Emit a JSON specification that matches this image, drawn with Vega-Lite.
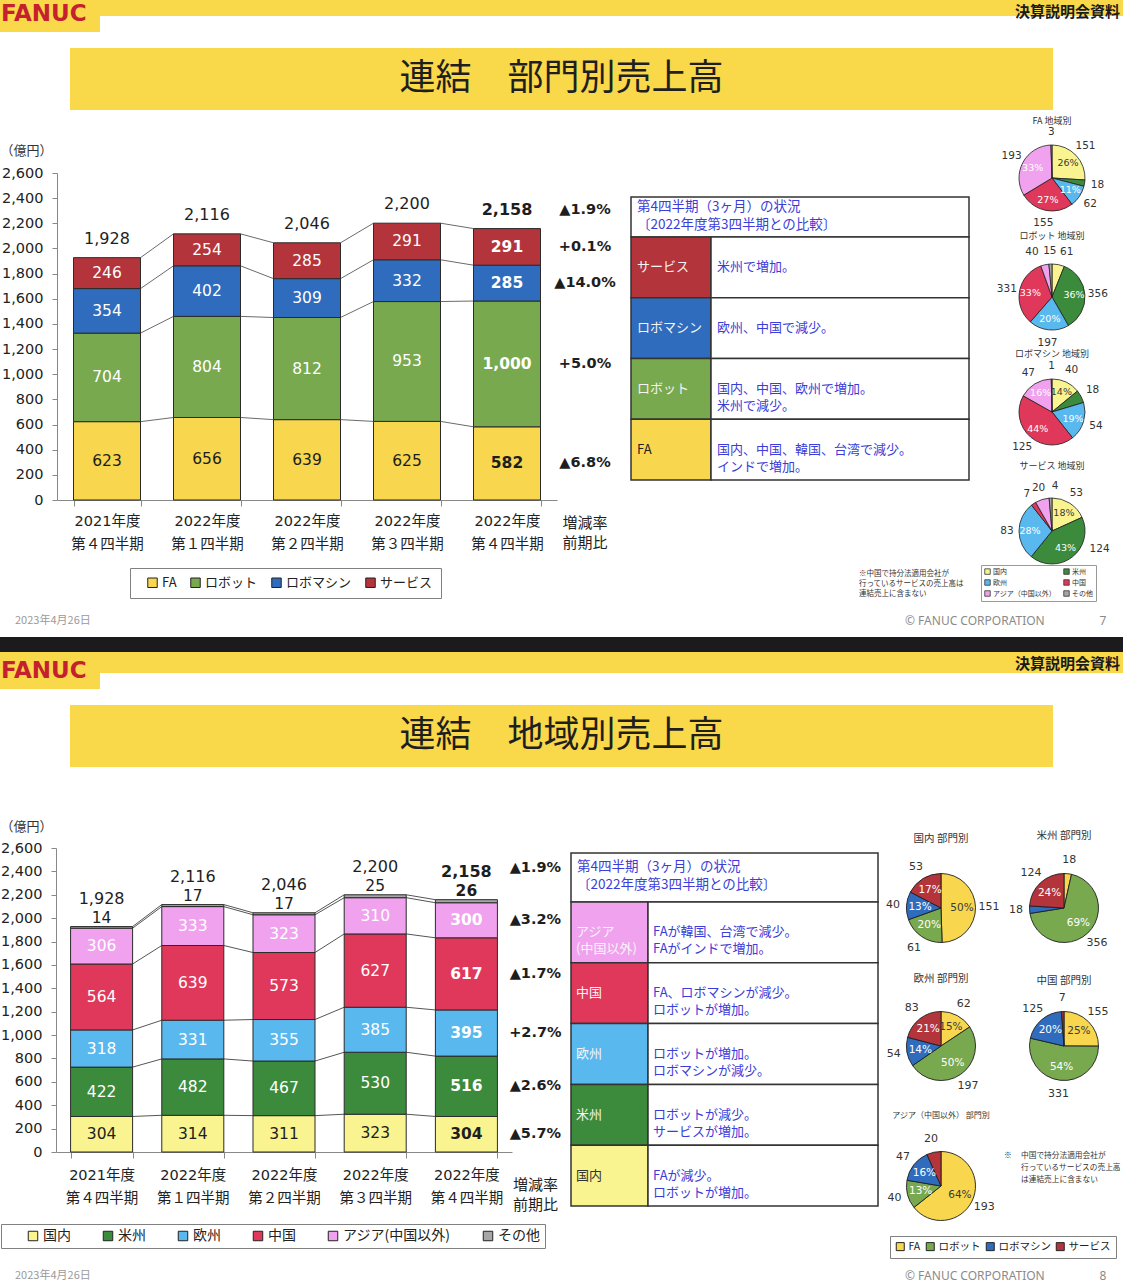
{
"$schema": "https://vega.github.io/schema/vega-lite/v6.json",
"padding": 0,
"background": "white",
"spacing": 0,
"resolve": {"scale": {"color": "independent"}, "legend": {"color": "independent"}},
"config": {
  "view": {"stroke": null},
  "font": "DejaVu Sans, Noto Sans CJK JP",
  "axis": {"grid": false},
  "title": {"font": "Noto Sans CJK JP"}
},
"datasets": {
  "segTop": [
    {"q":"2021年度第４四半期","s":"FA","k":0,"v":623},
    {"q":"2021年度第４四半期","s":"ロボット","k":1,"v":704},
    {"q":"2021年度第４四半期","s":"ロボマシン","k":2,"v":354},
    {"q":"2021年度第４四半期","s":"サービス","k":3,"v":246},
    {"q":"2022年度第１四半期","s":"FA","k":0,"v":656},
    {"q":"2022年度第１四半期","s":"ロボット","k":1,"v":804},
    {"q":"2022年度第１四半期","s":"ロボマシン","k":2,"v":402},
    {"q":"2022年度第１四半期","s":"サービス","k":3,"v":254},
    {"q":"2022年度第２四半期","s":"FA","k":0,"v":639},
    {"q":"2022年度第２四半期","s":"ロボット","k":1,"v":812},
    {"q":"2022年度第２四半期","s":"ロボマシン","k":2,"v":309},
    {"q":"2022年度第２四半期","s":"サービス","k":3,"v":285},
    {"q":"2022年度第３四半期","s":"FA","k":0,"v":625},
    {"q":"2022年度第３四半期","s":"ロボット","k":1,"v":953},
    {"q":"2022年度第３四半期","s":"ロボマシン","k":2,"v":332},
    {"q":"2022年度第３四半期","s":"サービス","k":3,"v":291},
    {"q":"2022年度第４四半期","s":"FA","k":0,"v":582,"g":"▲6.8%"},
    {"q":"2022年度第４四半期","s":"ロボット","k":1,"v":1000,"g":"+5.0%"},
    {"q":"2022年度第４四半期","s":"ロボマシン","k":2,"v":285,"g":"▲14.0%"},
    {"q":"2022年度第４四半期","s":"サービス","k":3,"v":291,"g":"+0.1%"}
  ],
  "totTop": [
    {"q":"2021年度第４四半期","t":1928},
    {"q":"2022年度第１四半期","t":2116},
    {"q":"2022年度第２四半期","t":2046},
    {"q":"2022年度第３四半期","t":2200},
    {"q":"2022年度第４四半期","t":2158,"g":"▲1.9%"}
  ],
  "segBot": [
    {"q":"2021年度第４四半期","s":"国内","k":0,"v":304},
    {"q":"2021年度第４四半期","s":"米州","k":1,"v":422},
    {"q":"2021年度第４四半期","s":"欧州","k":2,"v":318},
    {"q":"2021年度第４四半期","s":"中国","k":3,"v":564},
    {"q":"2021年度第４四半期","s":"アジア(中国以外)","k":4,"v":306},
    {"q":"2021年度第４四半期","s":"その他","k":5,"v":14},
    {"q":"2022年度第１四半期","s":"国内","k":0,"v":314},
    {"q":"2022年度第１四半期","s":"米州","k":1,"v":482},
    {"q":"2022年度第１四半期","s":"欧州","k":2,"v":331},
    {"q":"2022年度第１四半期","s":"中国","k":3,"v":639},
    {"q":"2022年度第１四半期","s":"アジア(中国以外)","k":4,"v":333},
    {"q":"2022年度第１四半期","s":"その他","k":5,"v":17},
    {"q":"2022年度第２四半期","s":"国内","k":0,"v":311},
    {"q":"2022年度第２四半期","s":"米州","k":1,"v":467},
    {"q":"2022年度第２四半期","s":"欧州","k":2,"v":355},
    {"q":"2022年度第２四半期","s":"中国","k":3,"v":573},
    {"q":"2022年度第２四半期","s":"アジア(中国以外)","k":4,"v":323},
    {"q":"2022年度第２四半期","s":"その他","k":5,"v":17},
    {"q":"2022年度第３四半期","s":"国内","k":0,"v":323},
    {"q":"2022年度第３四半期","s":"米州","k":1,"v":530},
    {"q":"2022年度第３四半期","s":"欧州","k":2,"v":385},
    {"q":"2022年度第３四半期","s":"中国","k":3,"v":627},
    {"q":"2022年度第３四半期","s":"アジア(中国以外)","k":4,"v":310},
    {"q":"2022年度第３四半期","s":"その他","k":5,"v":25},
    {"q":"2022年度第４四半期","s":"国内","k":0,"v":304,"g":"▲5.7%"},
    {"q":"2022年度第４四半期","s":"米州","k":1,"v":516,"g":"▲2.6%"},
    {"q":"2022年度第４四半期","s":"欧州","k":2,"v":395,"g":"+2.7%"},
    {"q":"2022年度第４四半期","s":"中国","k":3,"v":617,"g":"▲1.7%"},
    {"q":"2022年度第４四半期","s":"アジア(中国以外)","k":4,"v":300,"g":"▲3.2%"},
    {"q":"2022年度第４四半期","s":"その他","k":5,"v":26}
  ],
  "totBot": [
    {"q":"2021年度第４四半期","t":1928},
    {"q":"2022年度第１四半期","t":2116},
    {"q":"2022年度第２四半期","t":2046},
    {"q":"2022年度第３四半期","t":2200},
    {"q":"2022年度第４四半期","t":2158,"g":"▲1.9%"}
  ],
  "pieTop": [
    {"g":"FA","r":"国内","k":0,"v":151,"p":"26%"},
    {"g":"FA","r":"米州","k":1,"v":18,"p":""},
    {"g":"FA","r":"欧州","k":2,"v":62,"p":"11%"},
    {"g":"FA","r":"中国","k":3,"v":155,"p":"27%"},
    {"g":"FA","r":"アジア（中国以外）","k":4,"v":193,"p":"33%"},
    {"g":"FA","r":"その他","k":5,"v":3,"p":""},
    {"g":"ロボット","r":"国内","k":0,"v":61,"p":""},
    {"g":"ロボット","r":"米州","k":1,"v":356,"p":"36%"},
    {"g":"ロボット","r":"欧州","k":2,"v":197,"p":"20%"},
    {"g":"ロボット","r":"中国","k":3,"v":331,"p":"33%"},
    {"g":"ロボット","r":"アジア（中国以外）","k":4,"v":40,"p":""},
    {"g":"ロボット","r":"その他","k":5,"v":15,"p":""},
    {"g":"ロボマシン","r":"国内","k":0,"v":40,"p":"14%"},
    {"g":"ロボマシン","r":"米州","k":1,"v":18,"p":""},
    {"g":"ロボマシン","r":"欧州","k":2,"v":54,"p":"19%"},
    {"g":"ロボマシン","r":"中国","k":3,"v":125,"p":"44%"},
    {"g":"ロボマシン","r":"アジア（中国以外）","k":4,"v":47,"p":"16%"},
    {"g":"ロボマシン","r":"その他","k":5,"v":1,"p":""},
    {"g":"サービス","r":"国内","k":0,"v":53,"p":"18%"},
    {"g":"サービス","r":"米州","k":1,"v":124,"p":"43%"},
    {"g":"サービス","r":"欧州","k":2,"v":83,"p":"28%"},
    {"g":"サービス","r":"中国","k":3,"v":7,"p":""},
    {"g":"サービス","r":"アジア（中国以外）","k":4,"v":20,"p":""},
    {"g":"サービス","r":"その他","k":5,"v":4,"p":""}
  ],
  "pieBot": [
    {"g":"国内","r":"FA","k":0,"v":151,"p":"50%"},
    {"g":"国内","r":"ロボット","k":1,"v":61,"p":"20%"},
    {"g":"国内","r":"ロボマシン","k":2,"v":40,"p":"13%"},
    {"g":"国内","r":"サービス","k":3,"v":53,"p":"17%"},
    {"g":"米州","r":"FA","k":0,"v":18,"p":""},
    {"g":"米州","r":"ロボット","k":1,"v":356,"p":"69%"},
    {"g":"米州","r":"ロボマシン","k":2,"v":18,"p":""},
    {"g":"米州","r":"サービス","k":3,"v":124,"p":"24%"},
    {"g":"欧州","r":"FA","k":0,"v":62,"p":"15%"},
    {"g":"欧州","r":"ロボット","k":1,"v":197,"p":"50%"},
    {"g":"欧州","r":"ロボマシン","k":2,"v":54,"p":"14%"},
    {"g":"欧州","r":"サービス","k":3,"v":83,"p":"21%"},
    {"g":"中国","r":"FA","k":0,"v":155,"p":"25%"},
    {"g":"中国","r":"ロボット","k":1,"v":331,"p":"54%"},
    {"g":"中国","r":"ロボマシン","k":2,"v":125,"p":"20%"},
    {"g":"中国","r":"サービス","k":3,"v":7,"p":""},
    {"g":"アジア","r":"FA","k":0,"v":193,"p":"64%"},
    {"g":"アジア","r":"ロボット","k":1,"v":40,"p":"13%"},
    {"g":"アジア","r":"ロボマシン","k":2,"v":47,"p":"16%"},
    {"g":"アジア","r":"サービス","k":3,"v":20,"p":""}
  ]
},
"vconcat": [
  {"width":1123,"height":48,
   "layer":[
     {"data":{"values":[{}]},"mark":{"type":"rect","color":"#f9d84a"},"encoding":{"x":{"value":0},"x2":{"value":1123},"y":{"value":0},"y2":{"value":16}}},
     {"data":{"values":[{}]},"mark":{"type":"rect","color":"#f9d84a"},"encoding":{"x":{"value":0},"x2":{"value":100},"y":{"value":16},"y2":{"value":32}}},
     {"data":{"values":[{"t":"FANUC"}]},"mark":{"type":"text","align":"left","baseline":"middle","fontSize":23,"fontWeight":"bold","color":"#c4202e","font":"DejaVu Sans"},"encoding":{"text":{"field":"t"},"x":{"value":1},"y":{"value":14}}},
     {"data":{"values":[{"t":"決算説明会資料"}]},"mark":{"type":"text","align":"right","baseline":"middle","fontSize":15,"fontWeight":"bold","color":"#1a1a1a","font":"Noto Sans CJK JP"},"encoding":{"text":{"field":"t"},"x":{"value":1120},"y":{"value":11.5}}}
   ]},
  {"width":1123,"height":62,
   "layer":[
     {"data":{"values":[{}]},"mark":{"type":"rect","color":"#f9d84a"},"encoding":{"x":{"value":70},"x2":{"value":1053},"y":{"value":0},"y2":{"value":62}}},
     {"data":{"values":[{"t":"連結　部門別売上高"}]},"mark":{"type":"text","fontSize":36,"color":"#1f1f1f","font":"Noto Sans CJK JP","baseline":"middle"},"encoding":{"text":{"field":"t"}}}
   ]},
  {"hconcat":[
    {"width":630,"height":492,
     "encoding":{"x":{"field":"q","type":"nominal","title":null,
       "scale":{"type":"band","range":[57,557],"paddingInner":0.33,"paddingOuter":0.165},
       "axis":{"title":null,"offset":-102,"labelExpr":"[slice(datum.label,0,6), slice(datum.label,6)]","labelAngle":0,"labelFontSize":14.5,"labelLineHeight":23,"labelPadding":8,"labelColor":"#222","tickBand":"extent","tickSize":6,"tickColor":"#888","domainColor":"#888"}}},
     "layer":[
      {"data":{"name":"segTop"},
       "transform":[
         {"stack":"v","groupby":["q"],"sort":[{"field":"k","order":"ascending"}],"as":["y0","y1"]},
         {"window":[{"op":"lead","field":"y1","as":"ny"},{"op":"lead","field":"q","as":"nq"}],"groupby":["s"],"sort":[{"field":"q","order":"ascending"}]},
         {"filter":"isValid(datum.nq)"}
       ],
       "mark":{"type":"rule","color":"#6b6b6b","strokeWidth":1},
       "encoding":{"x":{"field":"q","type":"nominal","bandPosition":1},"x2":{"field":"nq","bandPosition":0},
         "y":{"field":"y1","type":"quantitative","scale":{"domain":[0,2600],"nice":false,"range":[390,63]},"axis":{"values":[0,200,400,600,800,1000,1200,1400,1600,1800,2000,2200,2400,2600],"format":",","labelExpr":"format(datum.value, ',')","offset":-57,"title":"（億円）","titleAngle":0,"titleAlign":"left","titleBaseline":"middle","titleX":-57,"titleY":40,"titleFontSize":13,"titleFontWeight":"normal","titleColor":"#333","titleFont":"Noto Sans CJK JP","labelFontSize":14.5,"labelColor":"#222","labelPadding":9,"tickSize":5,"tickColor":"#888","domainColor":"#888"}},
         "y2":{"field":"ny"}}},
      {"data":{"name":"segTop"},
       "mark":{"type":"bar","stroke":"#2b2b2b","strokeWidth":1},
       "encoding":{
         "y":{"field":"v","type":"quantitative","stack":"zero","scale":{"domain":[0,2600],"nice":false,"range":[390,63]},
           "axis":{"values":[0,200,400,600,800,1000,1200,1400,1600,1800,2000,2200,2400,2600],"format":",","labelExpr":"format(datum.value, ',')","offset":-57,"title":"（億円）","titleAngle":0,"titleAlign":"left","titleBaseline":"middle","titleX":-57,"titleY":40,"titleFontSize":13,"titleFontWeight":"normal","titleColor":"#333","titleFont":"Noto Sans CJK JP","labelFontSize":14.5,"labelColor":"#222","labelPadding":9,"tickSize":5,"tickColor":"#888","domainColor":"#888"}},
         "color":{"field":"s","type":"nominal","scale":{"domain":["FA","ロボット","ロボマシン","サービス"],"range":["#f8d64e","#79a94f","#2f6cbd","#b3343a"]},
           "legend":{"orient":"none","legendX":130,"legendY":458,"direction":"horizontal","title":" ","titleOrient":"left","titlePadding":8,"symbolType":"square","symbolSize":90,"symbolStrokeColor":"#222","symbolStrokeWidth":1,"labelFontSize":13,"labelFont":"Noto Sans CJK JP","labelColor":"#222","labelOffset":3,"columnPadding":11,"padding":8,"strokeColor":"#808080","fillColor":"white"}},
         "order":{"field":"k","type":"quantitative"}}},
      {"data":{"name":"segTop"},
       "transform":[{"filter":"datum.q !== '2022年度第４四半期'"}],
       "mark":{"type":"text","fontSize":15.5,"baseline":"middle"},
       "encoding":{"y":{"field":"v","type":"quantitative","stack":"zero","bandPosition":0.5,"axis":{"values":[0,200,400,600,800,1000,1200,1400,1600,1800,2000,2200,2400,2600],"format":",","labelExpr":"format(datum.value, ',')","offset":-57,"title":"（億円）","titleAngle":0,"titleAlign":"left","titleBaseline":"middle","titleX":-57,"titleY":40,"titleFontSize":13,"titleFontWeight":"normal","titleColor":"#333","titleFont":"Noto Sans CJK JP","labelFontSize":14.5,"labelColor":"#222","labelPadding":9,"tickSize":5,"tickColor":"#888","domainColor":"#888"}},"detail":{"field":"s"},"order":{"field":"k","type":"quantitative"},"text":{"field":"v","type":"quantitative","format":","},"color":{"condition":{"test":"datum.s === 'FA'","value":"#1e1e1e"},"value":"white"}}},
      {"data":{"name":"segTop"},
       "transform":[{"filter":"datum.q === '2022年度第４四半期'"}],
       "mark":{"type":"text","fontSize":15.5,"fontWeight":"bold","baseline":"middle"},
       "encoding":{"y":{"field":"v","type":"quantitative","stack":"zero","bandPosition":0.5,"axis":{"values":[0,200,400,600,800,1000,1200,1400,1600,1800,2000,2200,2400,2600],"format":",","labelExpr":"format(datum.value, ',')","offset":-57,"title":"（億円）","titleAngle":0,"titleAlign":"left","titleBaseline":"middle","titleX":-57,"titleY":40,"titleFontSize":13,"titleFontWeight":"normal","titleColor":"#333","titleFont":"Noto Sans CJK JP","labelFontSize":14.5,"labelColor":"#222","labelPadding":9,"tickSize":5,"tickColor":"#888","domainColor":"#888"}},"detail":{"field":"s"},"order":{"field":"k","type":"quantitative"},"text":{"field":"v","type":"quantitative","format":","},"color":{"condition":{"test":"datum.s === 'FA'","value":"#1e1e1e"},"value":"white"}}},
      {"data":{"name":"segTop"},
       "transform":[{"filter":"isValid(datum.g)"}],
       "mark":{"type":"text","fontSize":14.5,"fontWeight":"bold","baseline":"middle","dx":78,"color":"#1e1e1e"},
       "encoding":{"y":{"field":"v","type":"quantitative","stack":"zero","bandPosition":0.5,"axis":{"values":[0,200,400,600,800,1000,1200,1400,1600,1800,2000,2200,2400,2600],"format":",","labelExpr":"format(datum.value, ',')","offset":-57,"title":"（億円）","titleAngle":0,"titleAlign":"left","titleBaseline":"middle","titleX":-57,"titleY":40,"titleFontSize":13,"titleFontWeight":"normal","titleColor":"#333","titleFont":"Noto Sans CJK JP","labelFontSize":14.5,"labelColor":"#222","labelPadding":9,"tickSize":5,"tickColor":"#888","domainColor":"#888"}},"detail":{"field":"s"},"order":{"field":"k","type":"quantitative"},"text":{"field":"g"}}},
      {"data":{"name":"totTop"},
       "transform":[{"filter":"datum.q !== '2022年度第４四半期'"}],
       "mark":{"type":"text","fontSize":16,"baseline":"bottom","dy":-11,"color":"#1e1e1e"},
       "encoding":{"y":{"field":"t","type":"quantitative","axis":{"values":[0,200,400,600,800,1000,1200,1400,1600,1800,2000,2200,2400,2600],"format":",","labelExpr":"format(datum.value, ',')","offset":-57,"title":"（億円）","titleAngle":0,"titleAlign":"left","titleBaseline":"middle","titleX":-57,"titleY":40,"titleFontSize":13,"titleFontWeight":"normal","titleColor":"#333","titleFont":"Noto Sans CJK JP","labelFontSize":14.5,"labelColor":"#222","labelPadding":9,"tickSize":5,"tickColor":"#888","domainColor":"#888"}},"text":{"field":"t","type":"quantitative","format":","}}},
      {"data":{"name":"totTop"},
       "transform":[{"filter":"datum.q === '2022年度第４四半期'"}],
       "mark":{"type":"text","fontSize":16,"fontWeight":"bold","baseline":"bottom","dy":-11,"color":"#1e1e1e"},
       "encoding":{"y":{"field":"t","type":"quantitative","axis":{"values":[0,200,400,600,800,1000,1200,1400,1600,1800,2000,2200,2400,2600],"format":",","labelExpr":"format(datum.value, ',')","offset":-57,"title":"（億円）","titleAngle":0,"titleAlign":"left","titleBaseline":"middle","titleX":-57,"titleY":40,"titleFontSize":13,"titleFontWeight":"normal","titleColor":"#333","titleFont":"Noto Sans CJK JP","labelFontSize":14.5,"labelColor":"#222","labelPadding":9,"tickSize":5,"tickColor":"#888","domainColor":"#888"}},"text":{"field":"t","type":"quantitative","format":","}}},
      {"data":{"name":"totTop"},
       "transform":[{"filter":"isValid(datum.g)"}],
       "mark":{"type":"text","fontSize":14.5,"fontWeight":"bold","baseline":"bottom","dy":-12,"dx":78,"color":"#1e1e1e"},
       "encoding":{"y":{"field":"t","type":"quantitative","axis":{"values":[0,200,400,600,800,1000,1200,1400,1600,1800,2000,2200,2400,2600],"format":",","labelExpr":"format(datum.value, ',')","offset":-57,"title":"（億円）","titleAngle":0,"titleAlign":"left","titleBaseline":"middle","titleX":-57,"titleY":40,"titleFontSize":13,"titleFontWeight":"normal","titleColor":"#333","titleFont":"Noto Sans CJK JP","labelFontSize":14.5,"labelColor":"#222","labelPadding":9,"tickSize":5,"tickColor":"#888","domainColor":"#888"}},"text":{"field":"g"}}},
      {"data":{"values":[{"t":"増減率\n前期比"}]},
       "mark":{"type":"text","fontSize":15,"lineBreak":"\n","lineHeight":20,"baseline":"top","dx":78,"color":"#1e1e1e"},
       "encoding":{"x":{"datum":"2022年度第４四半期","type":"nominal"},"y":{"value":406},"text":{"field":"t"}}}
     ]},
    {"width":349,"height":492,
     "resolve":{"scale":{"x":"independent","y":"independent","color":"independent"}},
     "layer":[
      {"data":{"values":[{"t":"第4四半期（3ヶ月）の状況\n〔2022年度第3四半期との比較〕"}]},
       "layer":[
        {"mark":{"type":"rect","fill":"white","stroke":"#333","strokeWidth":1.5},
         "encoding":{"x":{"datum":0,"type":"quantitative","scale":{"domain":[0,1],"range":[0,338]},"axis":null},"x2":{"datum":1},
                     "y":{"datum":0,"type":"quantitative","scale":{"domain":[0,1],"range":[87,127]},"axis":null},"y2":{"datum":1}}},
        {"mark":{"type":"text","align":"left","baseline":"top","dx":6,"dy":3,"fontSize":13.5,"lineHeight":18,"lineBreak":"\n","color":"#3c3cd8","font":"Noto Sans CJK JP"},
         "encoding":{"x":{"datum":0,"type":"quantitative"},"y":{"datum":0,"type":"quantitative"},"text":{"field":"t"}}}
       ]},
      {"data":{"values":[{"s":"サービス"},{"s":"ロボマシン"},{"s":"ロボット"},{"s":"FA"}]},
       "encoding":{"y":{"field":"s","type":"nominal","sort":null,"scale":{"range":[127,370],"paddingInner":0,"paddingOuter":0},"axis":null}},
       "layer":[
        {"mark":{"type":"rect","stroke":"#333","strokeWidth":1.5},
         "encoding":{"x":{"datum":0,"type":"quantitative","scale":{"domain":[0,1],"range":[0,80]},"axis":null},"x2":{"datum":1},
           "color":{"field":"s","type":"nominal","scale":{"domain":["FA","ロボット","ロボマシン","サービス"],"range":["#f8d64e","#79a94f","#2f6cbd","#b3343a"]},"legend":null}}},
        {"mark":{"type":"text","align":"left","baseline":"middle","dx":6,"fontSize":13,"font":"Noto Sans CJK JP"},
         "encoding":{"x":{"datum":0,"type":"quantitative"},"text":{"field":"s"},"color":{"condition":{"test":"datum.s === 'FA'","value":"#222"},"value":"#f4f4f4"}}}
       ]},
      {"data":{"values":[{"s":"サービス","t":"米州で増加。"},{"s":"ロボマシン","t":"欧州、中国で減少。"},{"s":"ロボット","t":"国内、中国、欧州で増加。\n米州で減少。"},{"s":"FA","t":"国内、中国、韓国、台湾で減少。\nインドで増加。"}]},
       "encoding":{"y":{"field":"s","type":"nominal","sort":null,"scale":{"range":[127,370],"paddingInner":0,"paddingOuter":0},"axis":null}},
       "layer":[
        {"mark":{"type":"rect","fill":"white","stroke":"#333","strokeWidth":1.5},
         "encoding":{"x":{"datum":0,"type":"quantitative","scale":{"domain":[0,1],"range":[80,338]},"axis":null},"x2":{"datum":1}}},
        {"mark":{"type":"text","align":"left","baseline":"middle","dx":6,"fontSize":13,"font":"Noto Sans CJK JP","lineBreak":"\n","lineHeight":17,"color":"#3c3cd8"},
         "encoding":{"x":{"datum":0,"type":"quantitative"},"text":{"field":"t"}}}
       ]},
      {"data":{"values":[{"t":"※中国で持分法適用会社が\n行っているサービスの売上高は\n連結売上に含まない"}]},
       "mark":{"type":"text","align":"left","baseline":"top","fontSize":7.5,"lineHeight":10,"lineBreak":"\n","color":"#333","font":"Noto Sans CJK JP"},
       "encoding":{"text":{"field":"t"},"x":{"value":228},"y":{"value":460}}}
     ]},
    {"vconcat":[
      {"width":144,"height":14,"data":{"values":[]},"mark":"point"},
      {"width":144,"height":108,
       "title":{"text":"FA 地域別","fontSize":9,"fontWeight":"normal","color":"#333","offset":-1.5,"font":"Noto Sans CJK JP"},
       "data":{"name":"pieTop"},"transform":[{"filter":{"field":"g","equal":"FA"}}],
       "encoding":{"theta":{"field":"v","type":"quantitative","stack":true},"order":{"field":"k","type":"quantitative"},"detail":{"field":"r"},
         "color":{"field":"r","type":"nominal","scale":{"domain":["国内","米州","欧州","中国","アジア（中国以外）","その他"],"range":["#f9f48f","#3c8b3c","#59b8ee","#e0385a","#f0a2ee","#a6a6a6"]},"legend":null}},
       "layer":[
         {"mark":{"type":"arc","outerRadius":33,"stroke":"#1e1e1e","strokeWidth":0.8}},
         {"mark":{"type":"text","radius":46,"fontSize":10.5},"encoding":{"text":{"field":"v","type":"quantitative"},"color":{"value":"#333"}}},
         {"mark":{"type":"text","radius":22,"fontSize":9.5},"encoding":{"text":{"field":"p"},"color":{"condition":{"test":"datum.r === '国内'","value":"#3a3a3a"},"value":"white"}}}
       ]},
      {"width":144,"height":11,"data":{"values":[]},"mark":"point"},
      {"width":144,"height":108,
       "title":{"text":"ロボット 地域別","fontSize":9,"fontWeight":"normal","color":"#333","offset":2.5,"font":"Noto Sans CJK JP"},
       "data":{"name":"pieTop"},"transform":[{"filter":{"field":"g","equal":"ロボット"}}],
       "encoding":{"theta":{"field":"v","type":"quantitative","stack":true},"order":{"field":"k","type":"quantitative"},"detail":{"field":"r"},
         "color":{"field":"r","type":"nominal","scale":{"domain":["国内","米州","欧州","中国","アジア（中国以外）","その他"],"range":["#f9f48f","#3c8b3c","#59b8ee","#e0385a","#f0a2ee","#a6a6a6"]},"legend":null}},
       "layer":[
         {"mark":{"type":"arc","outerRadius":33,"stroke":"#1e1e1e","strokeWidth":0.8}},
         {"mark":{"type":"text","radius":46,"fontSize":10.5},"encoding":{"text":{"condition":{"test":"datum.k === 4 || datum.k === 0","value":""},"field":"v","type":"quantitative"},"color":{"value":"#333"}}},
         {"mark":{"type":"text","radius":46,"fontSize":10.5,"dx":-10},"encoding":{"text":{"condition":{"test":"datum.k !== 4","value":""},"field":"v","type":"quantitative"},"color":{"value":"#333"}}},
         {"mark":{"type":"text","radius":46,"fontSize":10.5,"dx":6},"encoding":{"text":{"condition":{"test":"datum.k !== 0","value":""},"field":"v","type":"quantitative"},"color":{"value":"#333"}}},
         {"mark":{"type":"text","radius":22,"fontSize":9.5},"encoding":{"text":{"field":"p"},"color":{"condition":{"test":"datum.r === '国内'","value":"#3a3a3a"},"value":"white"}}}
       ]},
      {"width":144,"height":7,"data":{"values":[]},"mark":"point"},
      {"width":144,"height":108,
       "title":{"text":"ロボマシン 地域別","fontSize":9,"fontWeight":"normal","color":"#333","offset":-0.5,"font":"Noto Sans CJK JP"},
       "data":{"name":"pieTop"},"transform":[{"filter":{"field":"g","equal":"ロボマシン"}}],
       "encoding":{"theta":{"field":"v","type":"quantitative","stack":true},"order":{"field":"k","type":"quantitative"},"detail":{"field":"r"},
         "color":{"field":"r","type":"nominal","scale":{"domain":["国内","米州","欧州","中国","アジア（中国以外）","その他"],"range":["#f9f48f","#3c8b3c","#59b8ee","#e0385a","#f0a2ee","#a6a6a6"]},"legend":null}},
       "layer":[
         {"mark":{"type":"arc","outerRadius":33,"stroke":"#1e1e1e","strokeWidth":0.8}},
         {"mark":{"type":"text","radius":46,"fontSize":10.5},"encoding":{"text":{"field":"v","type":"quantitative"},"color":{"value":"#333"}}},
         {"mark":{"type":"text","radius":22,"fontSize":9.5},"encoding":{"text":{"field":"p"},"color":{"condition":{"test":"datum.r === '国内'","value":"#3a3a3a"},"value":"white"}}}
       ]},
      {"width":144,"height":130,
       "title":{"text":"サービス 地域別","fontSize":9,"fontWeight":"normal","color":"#333","offset":-7.5,"font":"Noto Sans CJK JP"},
       "data":{"name":"pieTop"},"transform":[{"filter":{"field":"g","equal":"サービス"}}],
       "encoding":{"theta":{"field":"v","type":"quantitative","stack":true},"order":{"field":"k","type":"quantitative"},"detail":{"field":"r"},
         "color":{"field":"r","type":"nominal","scale":{"domain":["国内","米州","欧州","中国","アジア（中国以外）","その他"],"range":["#f9f48f","#3c8b3c","#59b8ee","#e0385a","#f0a2ee","#a6a6a6"]},
           "legend":{"orient":"none","legendX":1,"legendY":99,"columns":2,"direction":"horizontal","title":null,"symbolType":"square","symbolSize":30,"symbolStrokeColor":"#333","symbolStrokeWidth":0.8,"labelFontSize":7,"labelFont":"Noto Sans CJK JP","labelColor":"#333","labelOffset":2,"rowPadding":2,"columnPadding":6,"padding":3,"strokeColor":"#999","fillColor":"white"}}},
       "layer":[
         {"mark":{"type":"arc","outerRadius":33,"stroke":"#1e1e1e","strokeWidth":0.8}},
         {"mark":{"type":"text","radius":45,"fontSize":10.5},"encoding":{"text":{"condition":{"test":"datum.k === 1 || datum.k === 4 || datum.k === 5","value":""},"field":"v","type":"quantitative"},"color":{"value":"#333"}}},
         {"mark":{"type":"text","radius":45,"fontSize":10.5,"dx":20,"dy":-18},"encoding":{"text":{"condition":{"test":"datum.k !== 1","value":""},"field":"v","type":"quantitative"},"color":{"value":"#333"}}},
         {"mark":{"type":"text","radius":45,"fontSize":10.5,"dx":0},"encoding":{"text":{"condition":{"test":"datum.k !== 4","value":""},"field":"v","type":"quantitative"},"color":{"value":"#333"}}},
         {"mark":{"type":"text","radius":45,"fontSize":10.5,"dx":5},"encoding":{"text":{"condition":{"test":"datum.k !== 5","value":""},"field":"v","type":"quantitative"},"color":{"value":"#333"}}},
         {"mark":{"type":"text","radius":22,"fontSize":9.5},"encoding":{"text":{"field":"p"},"color":{"condition":{"test":"datum.r === '国内'","value":"#3a3a3a"},"value":"white"}}}
       ]}
    ],"spacing":0,"bounds":"flush","resolve":{"scale":{"color":"independent"},"legend":{"color":"independent"}}}
  ],"spacing":0,"resolve":{"scale":{"color":"independent"},"legend":{"color":"independent"}}},
  {"width":1123,"height":35,
   "layer":[
     {"data":{"values":[{"t":"2023年4月26日"}]},"mark":{"type":"text","align":"left","baseline":"middle","fontSize":11,"color":"#9a9a9a","font":"Noto Sans CJK JP"},"encoding":{"text":{"field":"t"},"x":{"value":15},"y":{"value":19}}},
     {"data":{"values":[{"t":"© FANUC CORPORATION"}]},"mark":{"type":"text","align":"left","baseline":"middle","fontSize":12,"color":"#8a8a8a","font":"Noto Sans"},"encoding":{"text":{"field":"t"},"x":{"value":905},"y":{"value":19}}},
     {"data":{"values":[{"t":"7"}]},"mark":{"type":"text","align":"center","baseline":"middle","fontSize":12,"color":"#8a8a8a","font":"Noto Sans"},"encoding":{"text":{"field":"t"},"x":{"value":1103},"y":{"value":19}}}
   ]},
  {"width":1123,"height":15,"view":{"fill":"#1b1b1d"},"data":{"values":[]},"mark":"point"},
  {"width":1123,"height":53,
   "layer":[
     {"data":{"values":[{}]},"mark":{"type":"rect","color":"#f9d84a"},"encoding":{"x":{"value":0},"x2":{"value":1123},"y":{"value":0},"y2":{"value":21}}},
     {"data":{"values":[{}]},"mark":{"type":"rect","color":"#f9d84a"},"encoding":{"x":{"value":0},"x2":{"value":100},"y":{"value":21},"y2":{"value":37}}},
     {"data":{"values":[{"t":"FANUC"}]},"mark":{"type":"text","align":"left","baseline":"middle","fontSize":23,"fontWeight":"bold","color":"#c4202e","font":"DejaVu Sans"},"encoding":{"text":{"field":"t"},"x":{"value":1},"y":{"value":19}}},
     {"data":{"values":[{"t":"決算説明会資料"}]},"mark":{"type":"text","align":"right","baseline":"middle","fontSize":15,"fontWeight":"bold","color":"#1a1a1a","font":"Noto Sans CJK JP"},"encoding":{"text":{"field":"t"},"x":{"value":1120},"y":{"value":12}}}
   ]},
  {"width":1123,"height":62,
   "layer":[
     {"data":{"values":[{}]},"mark":{"type":"rect","color":"#f9d84a"},"encoding":{"x":{"value":70},"x2":{"value":1053},"y":{"value":0},"y2":{"value":62}}},
     {"data":{"values":[{"t":"連結　地域別売上高"}]},"mark":{"type":"text","fontSize":36,"color":"#1f1f1f","font":"Noto Sans CJK JP","baseline":"middle"},"encoding":{"text":{"field":"t"}}}
   ]},
  {"hconcat":[
    {"width":570,"height":454,
     "encoding":{"x":{"field":"q","type":"nominal","title":null,
       "scale":{"type":"band","range":[56,512],"paddingInner":0.32,"paddingOuter":0.16},
       "axis":{"title":null,"offset":-69,"labelExpr":"[slice(datum.label,0,6), slice(datum.label,6)]","labelAngle":0,"labelFontSize":14.5,"labelLineHeight":23,"labelPadding":10,"labelColor":"#222","tickBand":"extent","tickSize":6,"tickColor":"#888","domainColor":"#888"}}},
     "layer":[
      {"data":{"name":"segBot"},
       "transform":[
         {"stack":"v","groupby":["q"],"sort":[{"field":"k","order":"ascending"}],"as":["y0","y1"]},
         {"window":[{"op":"lead","field":"y1","as":"ny"},{"op":"lead","field":"q","as":"nq"}],"groupby":["s"],"sort":[{"field":"q","order":"ascending"}]},
         {"filter":"isValid(datum.nq)"}
       ],
       "mark":{"type":"rule","color":"#555","strokeWidth":1},
       "encoding":{"x":{"field":"q","type":"nominal","bandPosition":1},"x2":{"field":"nq","bandPosition":0},
         "y":{"field":"y1","type":"quantitative","scale":{"domain":[0,2600],"nice":false,"range":[385,81]},"axis":{"values":[0,200,400,600,800,1000,1200,1400,1600,1800,2000,2200,2400,2600],"format":",","labelExpr":"format(datum.value, ',')","offset":-56,"title":"（億円）","titleAngle":0,"titleAlign":"left","titleBaseline":"middle","titleX":-56,"titleY":59,"titleFontSize":13,"titleFontWeight":"normal","titleColor":"#333","titleFont":"Noto Sans CJK JP","labelFontSize":14.5,"labelColor":"#222","labelPadding":9,"tickSize":5,"tickColor":"#888","domainColor":"#888"}},
         "y2":{"field":"ny"}}},
      {"data":{"name":"segBot"},
       "mark":{"type":"bar","stroke":"#2b2b2b","strokeWidth":1},
       "encoding":{
         "y":{"field":"v","type":"quantitative","stack":"zero","scale":{"domain":[0,2600],"nice":false,"range":[385,81]},
           "axis":{"values":[0,200,400,600,800,1000,1200,1400,1600,1800,2000,2200,2400,2600],"format":",","labelExpr":"format(datum.value, ',')","offset":-56,"title":"（億円）","titleAngle":0,"titleAlign":"left","titleBaseline":"middle","titleX":-56,"titleY":59,"titleFontSize":13,"titleFontWeight":"normal","titleColor":"#333","titleFont":"Noto Sans CJK JP","labelFontSize":14.5,"labelColor":"#222","labelPadding":9,"tickSize":5,"tickColor":"#888","domainColor":"#888"}},
         "color":{"field":"s","type":"nominal","scale":{"domain":["国内","米州","欧州","中国","アジア(中国以外)","その他"],"range":["#f9f48f","#3c8b3c","#59b8ee","#e0385a","#f0a2ee","#a6a6a6"]},"legend":null},
         "order":{"field":"k","type":"quantitative"}}},
      {"data":{"name":"segBot"},
       "transform":[{"filter":"datum.s !== 'その他' && datum.q !== '2022年度第４四半期'"}],
       "mark":{"type":"text","fontSize":15.5,"baseline":"middle"},
       "encoding":{"y":{"field":"v","type":"quantitative","stack":"zero","bandPosition":0.5,"axis":{"values":[0,200,400,600,800,1000,1200,1400,1600,1800,2000,2200,2400,2600],"format":",","labelExpr":"format(datum.value, ',')","offset":-56,"title":"（億円）","titleAngle":0,"titleAlign":"left","titleBaseline":"middle","titleX":-56,"titleY":59,"titleFontSize":13,"titleFontWeight":"normal","titleColor":"#333","titleFont":"Noto Sans CJK JP","labelFontSize":14.5,"labelColor":"#222","labelPadding":9,"tickSize":5,"tickColor":"#888","domainColor":"#888"}},"detail":{"field":"s"},"order":{"field":"k","type":"quantitative"},"text":{"field":"v","type":"quantitative","format":","},"color":{"condition":{"test":"datum.s === '国内'","value":"#1e1e1e"},"value":"white"}}},
      {"data":{"name":"segBot"},
       "transform":[{"filter":"datum.s !== 'その他' && datum.q === '2022年度第４四半期'"}],
       "mark":{"type":"text","fontSize":15.5,"fontWeight":"bold","baseline":"middle"},
       "encoding":{"y":{"field":"v","type":"quantitative","stack":"zero","bandPosition":0.5,"axis":{"values":[0,200,400,600,800,1000,1200,1400,1600,1800,2000,2200,2400,2600],"format":",","labelExpr":"format(datum.value, ',')","offset":-56,"title":"（億円）","titleAngle":0,"titleAlign":"left","titleBaseline":"middle","titleX":-56,"titleY":59,"titleFontSize":13,"titleFontWeight":"normal","titleColor":"#333","titleFont":"Noto Sans CJK JP","labelFontSize":14.5,"labelColor":"#222","labelPadding":9,"tickSize":5,"tickColor":"#888","domainColor":"#888"}},"detail":{"field":"s"},"order":{"field":"k","type":"quantitative"},"text":{"field":"v","type":"quantitative","format":","},"color":{"condition":{"test":"datum.s === '国内'","value":"#1e1e1e"},"value":"white"}}},
      {"data":{"name":"segBot"},
       "transform":[{"filter":"datum.q !== '2022年度第４四半期'"}],
       "mark":{"type":"text","fontSize":15.5,"baseline":"bottom","dy":-1,"color":"#1e1e1e"},
       "encoding":{"y":{"field":"v","type":"quantitative","stack":"zero","bandPosition":1,"axis":{"values":[0,200,400,600,800,1000,1200,1400,1600,1800,2000,2200,2400,2600],"format":",","labelExpr":"format(datum.value, ',')","offset":-56,"title":"（億円）","titleAngle":0,"titleAlign":"left","titleBaseline":"middle","titleX":-56,"titleY":59,"titleFontSize":13,"titleFontWeight":"normal","titleColor":"#333","titleFont":"Noto Sans CJK JP","labelFontSize":14.5,"labelColor":"#222","labelPadding":9,"tickSize":5,"tickColor":"#888","domainColor":"#888"}},"detail":{"field":"s"},"order":{"field":"k","type":"quantitative"},"text":{"condition":{"test":"datum.s !== 'その他'","value":""},"field":"v","type":"quantitative"}}},
      {"data":{"name":"segBot"},
       "transform":[{"filter":"datum.q === '2022年度第４四半期'"}],
       "mark":{"type":"text","fontSize":15.5,"fontWeight":"bold","baseline":"bottom","dy":-1,"color":"#1e1e1e"},
       "encoding":{"y":{"field":"v","type":"quantitative","stack":"zero","bandPosition":1,"axis":{"values":[0,200,400,600,800,1000,1200,1400,1600,1800,2000,2200,2400,2600],"format":",","labelExpr":"format(datum.value, ',')","offset":-56,"title":"（億円）","titleAngle":0,"titleAlign":"left","titleBaseline":"middle","titleX":-56,"titleY":59,"titleFontSize":13,"titleFontWeight":"normal","titleColor":"#333","titleFont":"Noto Sans CJK JP","labelFontSize":14.5,"labelColor":"#222","labelPadding":9,"tickSize":5,"tickColor":"#888","domainColor":"#888"}},"detail":{"field":"s"},"order":{"field":"k","type":"quantitative"},"text":{"condition":{"test":"datum.s !== 'その他'","value":""},"field":"v","type":"quantitative"}}},
      {"data":{"name":"segBot"},
       "transform":[{"filter":"isValid(datum.g)"}],
       "mark":{"type":"text","fontSize":14.5,"fontWeight":"bold","baseline":"middle","dx":69,"color":"#1e1e1e"},
       "encoding":{"y":{"field":"v","type":"quantitative","stack":"zero","bandPosition":0.5,"axis":{"values":[0,200,400,600,800,1000,1200,1400,1600,1800,2000,2200,2400,2600],"format":",","labelExpr":"format(datum.value, ',')","offset":-56,"title":"（億円）","titleAngle":0,"titleAlign":"left","titleBaseline":"middle","titleX":-56,"titleY":59,"titleFontSize":13,"titleFontWeight":"normal","titleColor":"#333","titleFont":"Noto Sans CJK JP","labelFontSize":14.5,"labelColor":"#222","labelPadding":9,"tickSize":5,"tickColor":"#888","domainColor":"#888"}},"detail":{"field":"s"},"order":{"field":"k","type":"quantitative"},"text":{"field":"g"}}},
      {"data":{"name":"totBot"},
       "transform":[{"filter":"datum.q !== '2022年度第４四半期'"}],
       "mark":{"type":"text","fontSize":16,"baseline":"bottom","dy":-20,"color":"#1e1e1e"},
       "encoding":{"y":{"field":"t","type":"quantitative","axis":{"values":[0,200,400,600,800,1000,1200,1400,1600,1800,2000,2200,2400,2600],"format":",","labelExpr":"format(datum.value, ',')","offset":-56,"title":"（億円）","titleAngle":0,"titleAlign":"left","titleBaseline":"middle","titleX":-56,"titleY":59,"titleFontSize":13,"titleFontWeight":"normal","titleColor":"#333","titleFont":"Noto Sans CJK JP","labelFontSize":14.5,"labelColor":"#222","labelPadding":9,"tickSize":5,"tickColor":"#888","domainColor":"#888"}},"text":{"field":"t","type":"quantitative","format":","}}},
      {"data":{"name":"totBot"},
       "transform":[{"filter":"datum.q === '2022年度第４四半期'"}],
       "mark":{"type":"text","fontSize":16,"fontWeight":"bold","baseline":"bottom","dy":-20,"color":"#1e1e1e"},
       "encoding":{"y":{"field":"t","type":"quantitative","axis":{"values":[0,200,400,600,800,1000,1200,1400,1600,1800,2000,2200,2400,2600],"format":",","labelExpr":"format(datum.value, ',')","offset":-56,"title":"（億円）","titleAngle":0,"titleAlign":"left","titleBaseline":"middle","titleX":-56,"titleY":59,"titleFontSize":13,"titleFontWeight":"normal","titleColor":"#333","titleFont":"Noto Sans CJK JP","labelFontSize":14.5,"labelColor":"#222","labelPadding":9,"tickSize":5,"tickColor":"#888","domainColor":"#888"}},"text":{"field":"t","type":"quantitative","format":","}}},
      {"data":{"name":"totBot"},
       "transform":[{"filter":"isValid(datum.g)"}],
       "mark":{"type":"text","fontSize":14.5,"fontWeight":"bold","baseline":"bottom","dy":-25,"dx":69,"color":"#1e1e1e"},
       "encoding":{"y":{"field":"t","type":"quantitative","axis":{"values":[0,200,400,600,800,1000,1200,1400,1600,1800,2000,2200,2400,2600],"format":",","labelExpr":"format(datum.value, ',')","offset":-56,"title":"（億円）","titleAngle":0,"titleAlign":"left","titleBaseline":"middle","titleX":-56,"titleY":59,"titleFontSize":13,"titleFontWeight":"normal","titleColor":"#333","titleFont":"Noto Sans CJK JP","labelFontSize":14.5,"labelColor":"#222","labelPadding":9,"tickSize":5,"tickColor":"#888","domainColor":"#888"}},"text":{"field":"g"}}},
      {"data":{"values":[{"t":"増減率\n前期比"}]},
       "mark":{"type":"text","fontSize":15,"lineBreak":"\n","lineHeight":20,"baseline":"top","dx":69,"color":"#1e1e1e"},
       "encoding":{"x":{"datum":"2022年度第４四半期","type":"nominal"},"y":{"value":411},"text":{"field":"t"}}}
     ]},
    {"width":310,"height":454,
     "resolve":{"scale":{"x":"independent","y":"independent","color":"independent"}},
     "layer":[
      {"data":{"values":[{"t":"第4四半期（3ヶ月）の状況\n〔2022年度第3四半期との比較〕"}]},
       "layer":[
        {"mark":{"type":"rect","fill":"white","stroke":"#333","strokeWidth":1.5},
         "encoding":{"x":{"datum":0,"type":"quantitative","scale":{"domain":[0,1],"range":[0,307]},"axis":null},"x2":{"datum":1},
                     "y":{"datum":0,"type":"quantitative","scale":{"domain":[0,1],"range":[86,135]},"axis":null},"y2":{"datum":1}}},
        {"mark":{"type":"text","align":"left","baseline":"top","dx":6,"dy":7,"fontSize":13.5,"lineHeight":17.5,"lineBreak":"\n","color":"#3c3cd8","font":"Noto Sans CJK JP"},
         "encoding":{"x":{"datum":0,"type":"quantitative"},"y":{"datum":0,"type":"quantitative"},"text":{"field":"t"}}}
       ]},
      {"data":{"values":[{"s":"アジア(中国以外)","lab":"アジア\n(中国以外)"},{"s":"中国","lab":"中国"},{"s":"欧州","lab":"欧州"},{"s":"米州","lab":"米州"},{"s":"国内","lab":"国内"}]},
       "encoding":{"y":{"field":"s","type":"nominal","sort":null,"scale":{"range":[135,439],"paddingInner":0,"paddingOuter":0},"axis":null}},
       "layer":[
        {"mark":{"type":"rect","stroke":"#333","strokeWidth":1.5},
         "encoding":{"x":{"datum":0,"type":"quantitative","scale":{"domain":[0,1],"range":[0,77]},"axis":null},"x2":{"datum":1},
           "color":{"field":"s","type":"nominal","scale":{"domain":["アジア(中国以外)","中国","欧州","米州","国内"],"range":["#f0a2ee","#e0385a","#59b8ee","#3c8b3c","#f9f48f"]},"legend":null}}},
        {"mark":{"type":"text","align":"left","baseline":"middle","dx":5,"fontSize":13,"font":"Noto Sans CJK JP","lineBreak":"\n","lineHeight":17},
         "encoding":{"x":{"datum":0,"type":"quantitative"},"text":{"field":"lab"},"color":{"condition":{"test":"datum.s === '国内'","value":"#333"},"value":"#f6f6f6"}}}
       ]},
      {"data":{"values":[{"s":"アジア(中国以外)","t":"FAが韓国、台湾で減少。\nFAがインドで増加。"},{"s":"中国","t":"FA、ロボマシンが減少。\nロボットが増加。"},{"s":"欧州","t":"ロボットが増加。\nロボマシンが減少。"},{"s":"米州","t":"ロボットが減少。\nサービスが増加。"},{"s":"国内","t":"FAが減少。\nロボットが増加。"}]},
       "encoding":{"y":{"field":"s","type":"nominal","sort":null,"scale":{"range":[135,439],"paddingInner":0,"paddingOuter":0},"axis":null}},
       "layer":[
        {"mark":{"type":"rect","fill":"white","stroke":"#333","strokeWidth":1.5},
         "encoding":{"x":{"datum":0,"type":"quantitative","scale":{"domain":[0,1],"range":[77,307]},"axis":null},"x2":{"datum":1}}},
        {"mark":{"type":"text","align":"left","baseline":"middle","dx":5,"fontSize":13,"font":"Noto Sans CJK JP","lineBreak":"\n","lineHeight":17,"color":"#3c3cd8"},
         "encoding":{"x":{"datum":0,"type":"quantitative"},"text":{"field":"t"}}}
       ]}
     ]},
    {"hconcat":[
      {"vconcat":[
        {"width":120,"height":86,"data":{"values":[]},"mark":"point"},
        {"width":120,"height":110,
         "title":{"text":"国内 部門別","fontSize":10.5,"fontWeight":"normal","color":"#333","offset":9,"font":"Noto Sans CJK JP"},
         "data":{"name":"pieBot"},"transform":[{"filter":{"field":"g","equal":"国内"}}],
         "encoding":{"theta":{"field":"v","type":"quantitative","stack":true},"order":{"field":"k","type":"quantitative"},"detail":{"field":"r"},
           "color":{"field":"r","type":"nominal","scale":{"domain":["FA","ロボット","ロボマシン","サービス"],"range":["#f8d64e","#79a94f","#2f6cbd","#b3343a"]},"legend":null}},
         "layer":[
           {"mark":{"type":"arc","outerRadius":34.5,"stroke":"#1e1e1e","strokeWidth":0.9}},
           {"mark":{"type":"text","radius":48,"fontSize":11},"encoding":{"text":{"field":"v","type":"quantitative"},"color":{"value":"#333"}}},
           {"mark":{"type":"text","radius":21,"fontSize":10.5},"encoding":{"text":{"field":"p"},"color":{"condition":{"test":"datum.r === 'FA'","value":"#3a3a3a"},"value":"white"}}}
         ]},
        {"width":120,"height":28,"data":{"values":[]},"mark":"point"},
        {"width":120,"height":110,
         "title":{"text":"欧州 部門別","fontSize":10.5,"fontWeight":"normal","color":"#333","offset":7,"font":"Noto Sans CJK JP"},
         "data":{"name":"pieBot"},"transform":[{"filter":{"field":"g","equal":"欧州"}}],
         "encoding":{"theta":{"field":"v","type":"quantitative","stack":true},"order":{"field":"k","type":"quantitative"},"detail":{"field":"r"},
           "color":{"field":"r","type":"nominal","scale":{"domain":["FA","ロボット","ロボマシン","サービス"],"range":["#f8d64e","#79a94f","#2f6cbd","#b3343a"]},"legend":null}},
         "layer":[
           {"mark":{"type":"arc","outerRadius":34.5,"stroke":"#1e1e1e","strokeWidth":0.9}},
           {"mark":{"type":"text","radius":48,"fontSize":11},"encoding":{"text":{"field":"v","type":"quantitative"},"color":{"value":"#333"}}},
           {"mark":{"type":"text","radius":21,"fontSize":10.5},"encoding":{"text":{"field":"p"},"color":{"condition":{"test":"datum.r === 'FA'","value":"#3a3a3a"},"value":"white"}}}
         ]},
        {"width":120,"height":50,"data":{"values":[]},"mark":"point"},
        {"width":120,"height":70,
         "title":{"text":"アジア（中国以外） 部門別","fontSize":8,"fontWeight":"normal","color":"#333","offset":13,"font":"Noto Sans CJK JP"},
         "data":{"name":"pieBot"},"transform":[{"filter":{"field":"g","equal":"アジア"}}],
         "encoding":{"theta":{"field":"v","type":"quantitative","stack":true},"order":{"field":"k","type":"quantitative"},"detail":{"field":"r"},
           "color":{"field":"r","type":"nominal","scale":{"domain":["FA","ロボット","ロボマシン","サービス"],"range":["#f8d64e","#79a94f","#2f6cbd","#b3343a"]},"legend":null}},
         "layer":[
           {"mark":{"type":"arc","outerRadius":34.5,"stroke":"#1e1e1e","strokeWidth":0.9}},
           {"mark":{"type":"text","radius":48,"fontSize":11},"encoding":{"text":{"field":"v","type":"quantitative"},"color":{"value":"#333"}}},
           {"mark":{"type":"text","radius":21,"fontSize":10.5},"encoding":{"text":{"field":"p"},"color":{"condition":{"test":"datum.r === 'FA'","value":"#3a3a3a"},"value":"white"}}}
         ]}
      ],"spacing":0,"bounds":"flush","resolve":{"scale":{"color":"independent"},"legend":{"color":"independent"}}},
      {"width":3,"height":454,"data":{"values":[]},"mark":"point"},
      {"vconcat":[
        {"width":120,"height":86,"data":{"values":[]},"mark":"point"},
        {"width":120,"height":110,
         "title":{"text":"米州 部門別","fontSize":10.5,"fontWeight":"normal","color":"#333","offset":12,"font":"Noto Sans CJK JP"},
         "data":{"name":"pieBot"},"transform":[{"filter":{"field":"g","equal":"米州"}}],
         "encoding":{"theta":{"field":"v","type":"quantitative","stack":true},"order":{"field":"k","type":"quantitative"},"detail":{"field":"r"},
           "color":{"field":"r","type":"nominal","scale":{"domain":["FA","ロボット","ロボマシン","サービス"],"range":["#f8d64e","#79a94f","#2f6cbd","#b3343a"]},"legend":null}},
         "layer":[
           {"mark":{"type":"arc","outerRadius":34.5,"stroke":"#1e1e1e","strokeWidth":0.9}},
           {"mark":{"type":"text","radius":48,"fontSize":11},"encoding":{"text":{"field":"v","type":"quantitative"},"color":{"value":"#333"}}},
           {"mark":{"type":"text","radius":21,"fontSize":10.5},"encoding":{"text":{"field":"p"},"color":{"condition":{"test":"datum.r === 'FA'","value":"#3a3a3a"},"value":"white"}}}
         ]},
        {"width":120,"height":28,"data":{"values":[]},"mark":"point"},
        {"width":120,"height":110,
         "title":{"text":"中国 部門別","fontSize":10.5,"fontWeight":"normal","color":"#333","offset":5,"font":"Noto Sans CJK JP"},
         "data":{"name":"pieBot"},"transform":[{"filter":{"field":"g","equal":"中国"}}],
         "encoding":{"theta":{"field":"v","type":"quantitative","stack":true},"order":{"field":"k","type":"quantitative"},"detail":{"field":"r"},
           "color":{"field":"r","type":"nominal","scale":{"domain":["FA","ロボット","ロボマシン","サービス"],"range":["#f8d64e","#79a94f","#2f6cbd","#b3343a"]},"legend":null}},
         "layer":[
           {"mark":{"type":"arc","outerRadius":34.5,"stroke":"#1e1e1e","strokeWidth":0.9}},
           {"mark":{"type":"text","radius":48,"fontSize":11},"encoding":{"text":{"field":"v","type":"quantitative"},"color":{"value":"#333"}}},
           {"mark":{"type":"text","radius":21,"fontSize":10.5},"encoding":{"text":{"field":"p"},"color":{"condition":{"test":"datum.r === 'FA'","value":"#3a3a3a"},"value":"white"}}}
         ]},
        {"width":120,"height":50,"data":{"values":[]},"mark":"point"},
        {"width":120,"height":70,
         "layer":[
           {"data":{"values":[{"t":"※"}]},"mark":{"type":"text","align":"left","baseline":"top","fontSize":7.7,"color":"#333","font":"Noto Sans CJK JP"},"encoding":{"text":{"field":"t"},"x":{"value":0},"y":{"value":1}}},
           {"data":{"values":[{"t":"中国で持分法適用会社が\n行っているサービスの売上高\nは連結売上に含まない"}]},"mark":{"type":"text","align":"left","baseline":"top","fontSize":7.7,"lineHeight":12,"lineBreak":"\n","color":"#333","font":"Noto Sans CJK JP"},"encoding":{"text":{"field":"t"},"x":{"value":17},"y":{"value":1}}}
         ]}
      ],"spacing":0,"bounds":"flush","resolve":{"scale":{"color":"independent"},"legend":{"color":"independent"}}}
    ],"spacing":0,"resolve":{"scale":{"color":"independent"},"legend":{"color":"independent"}}}
  ],"spacing":0,"resolve":{"scale":{"color":"independent"},"legend":{"color":"independent"}}},
  {"width":1123,"height":62,
   "resolve":{"scale":{"color":"independent"},"legend":{"color":"independent"}},
   "layer":[
     {"data":{"values":[{"r":"国内"}]},"mark":{"type":"square","opacity":0},
      "encoding":{"color":{"field":"r","type":"nominal","scale":{"domain":["国内","米州","欧州","中国","アジア(中国以外)","その他"],"range":["#f9f48f","#3c8b3c","#59b8ee","#e0385a","#f0a2ee","#a6a6a6"]},
        "legend":{"orient":"none","legendX":1,"legendY":0,"direction":"horizontal","title":" ","titleOrient":"left","titlePadding":20,"symbolType":"square","symbolSize":90,"symbolOpacity":1,"symbolStrokeColor":"#222","symbolStrokeWidth":1,"labelFontSize":14,"labelFont":"Noto Sans CJK JP","labelColor":"#222","labelOffset":3,"columnPadding":30,"padding":5,"strokeColor":"#808080","fillColor":"white"}}}},
     {"data":{"values":[{"r":"FA"}]},"mark":{"type":"square","opacity":0},
      "encoding":{"color":{"field":"r","type":"nominal","scale":{"domain":["FA","ロボット","ロボマシン","サービス"],"range":["#f8d64e","#79a94f","#2f6cbd","#b3343a"]},
        "legend":{"orient":"none","legendX":890,"legendY":12,"direction":"horizontal","title":null,"symbolType":"square","symbolSize":64,"symbolOpacity":1,"symbolStrokeColor":"#222","symbolStrokeWidth":1,"labelFontSize":10.5,"labelFont":"Noto Sans CJK JP","labelColor":"#222","labelOffset":3,"columnPadding":3,"padding":5,"strokeColor":"#808080","fillColor":"white"}}}},
     {"data":{"values":[{"t":"2023年4月26日"}]},"mark":{"type":"text","align":"left","baseline":"middle","fontSize":11,"color":"#9a9a9a","font":"Noto Sans CJK JP"},"encoding":{"text":{"field":"t"},"x":{"value":15},"y":{"value":52}}},
     {"data":{"values":[{"t":"© FANUC CORPORATION"}]},"mark":{"type":"text","align":"left","baseline":"middle","fontSize":12,"color":"#8a8a8a","font":"Noto Sans"},"encoding":{"text":{"field":"t"},"x":{"value":905},"y":{"value":52}}},
     {"data":{"values":[{"t":"8"}]},"mark":{"type":"text","align":"center","baseline":"middle","fontSize":12,"color":"#8a8a8a","font":"Noto Sans"},"encoding":{"text":{"field":"t"},"x":{"value":1103},"y":{"value":52}}}
   ]}
]
}
